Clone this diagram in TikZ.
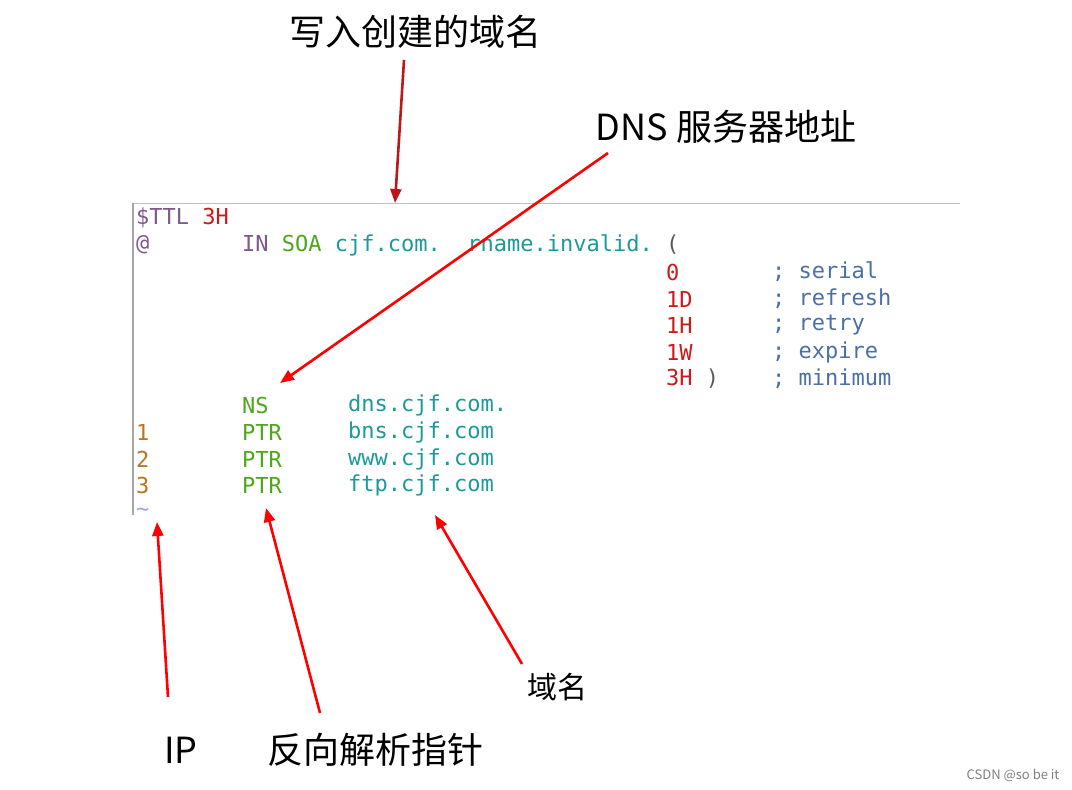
\documentclass[tikz,border=0pt]{standalone}
\usepackage{fontspec}
\setmonofont{DejaVu Sans Mono}
\newfontfamily\cjk{Noto Sans CJK SC}
\usetikzlibrary{arrows.meta}
\definecolor{cpur}{HTML}{7D5A8A}
\definecolor{cred}{HTML}{CC1A1A}
\definecolor{cgrn}{HTML}{4EA61A}
\definecolor{ctea}{HTML}{1A9A9A}
\definecolor{cblu}{HTML}{4A70A8}
\definecolor{corg}{HTML}{B8761E}
\definecolor{ctil}{HTML}{9AA8D0}
\begin{document}
\begin{tikzpicture}[x=1pt,y=-1pt,
  code/.style={anchor=west,inner sep=0pt,font=\fontsize{22}{22}\ttfamily},
  lbl/.style={inner sep=0pt,font=\fontsize{36}{36}\cjk},
  arr/.style={draw=red,line width=2.6pt,-{Triangle[length=14pt,width=11pt]}}]
\useasboundingbox (0,0) rectangle (1072,790);
\fill[white] (0,0) rectangle (1072,790);
\draw[gray!50,line width=1pt] (133,203) -- (960,203);
\draw[gray!70,line width=1.5pt] (133,203) -- (133,515);
\def\cw{13.25}
\newcommand\cl[3]{\node[code] at ({136+#1*\cw},{#2+1}) {#3};}
\cl{0}{217}{\textcolor{cpur}{\$TTL} \textcolor{cred}{3H}}
\cl{0}{244}{\textcolor{cpur}{@}}
\cl{8}{244}{\textcolor{cpur}{IN} \textcolor{cgrn}{SOA} \textcolor{ctea}{cjf.com.\ \ rname.invalid.} \textcolor{gray!70!black}{(}}
\cl{40}{271}{\textcolor{cred}{0}}
\cl{40}{298}{\textcolor{cred}{1D}}
\cl{40}{324}{\textcolor{cred}{1H}}
\cl{40}{351}{\textcolor{cred}{1W}}
\cl{40}{378}{\textcolor{cred}{3H} \textcolor{gray!70!black}{)}}
\cl{48}{271}{\textcolor{cblu}{; serial}}
\cl{48}{298}{\textcolor{cblu}{; refresh}}
\cl{48}{324}{\textcolor{cblu}{; retry}}
\cl{48}{351}{\textcolor{cblu}{; expire}}
\cl{48}{378}{\textcolor{cblu}{; minimum}}
\cl{8}{404}{\textcolor{cgrn}{NS}}
\cl{16}{404}{\textcolor{ctea}{dns.cjf.com.}}
\cl{0}{431}{\textcolor{corg}{1}}
\cl{0}{458}{\textcolor{corg}{2}}
\cl{0}{484}{\textcolor{corg}{3}}
\cl{8}{431}{\textcolor{cgrn}{PTR}}
\cl{8}{458}{\textcolor{cgrn}{PTR}}
\cl{8}{484}{\textcolor{cgrn}{PTR}}
\cl{16}{431}{\textcolor{ctea}{bns.cjf.com}}
\cl{16}{458}{\textcolor{ctea}{www.cjf.com}}
\cl{16}{484}{\textcolor{ctea}{ftp.cjf.com}}
\cl{0}{511}{\textcolor{ctil}{\char`\~}}
\node[lbl] (t1) at (415,32) {写入创建的域名};
\node[lbl] (t2) at (726,127) {DNS 服务器地址};
\node[lbl] (t3) at (181,750) {IP};
\node[lbl] (t4) at (375,750) {反向解析指针};
\node[lbl,font=\fontsize{30}{30}\cjk] (t5) at (557,687) {域名};
\node[inner sep=0pt,font=\fontsize{13}{13}\cjk,text=gray] (wm) at (1013,775) {CSDN @so be it};
\coordinate (a1s) at (404,60); \coordinate (a1e) at (395,203);
\coordinate (a2s) at (608,153); \coordinate (a2e) at (280,383);
\coordinate (a3s) at (168,697); \coordinate (a3e) at (157,522);
\coordinate (a4s) at (320,713); \coordinate (a4e) at (266,508);
\coordinate (a5s) at (522,664); \coordinate (a5e) at (435,515);
\draw[arr,draw=red!70!black!90] (a1s) -- (a1e);
\draw[arr] (a2s) -- (a2e);
\draw[arr] (a3s) -- (a3e);
\draw[arr] (a4s) -- (a4e);
\draw[arr] (a5s) -- (a5e);
\end{tikzpicture}
\end{document}
